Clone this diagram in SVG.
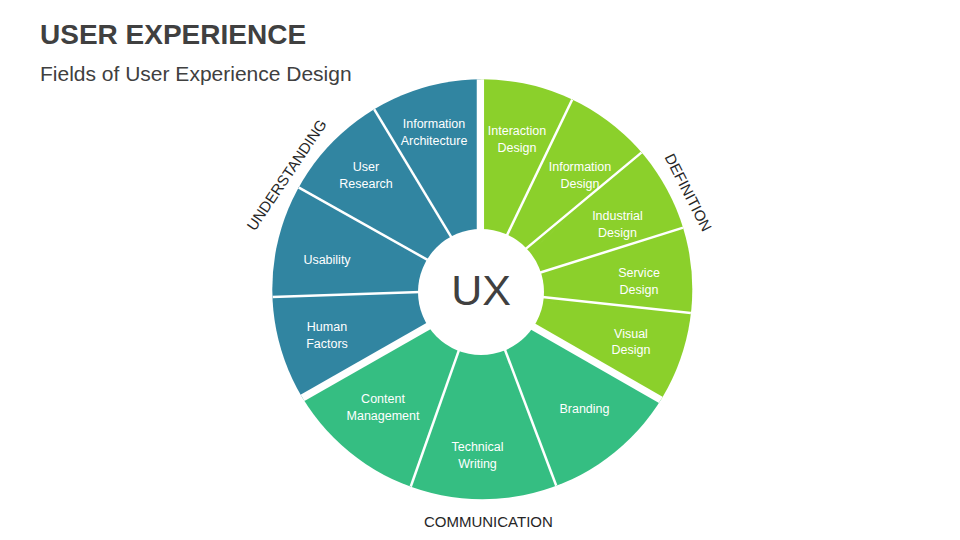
<svg xmlns="http://www.w3.org/2000/svg" width="960" height="540" viewBox="0 0 960 540">
<style>
.blue{fill:#3185A1;stroke:#3185A1;stroke-width:1}
.green{fill:#8BD02B;stroke:#8BD02B;stroke-width:1}
.teal{fill:#35BE82;stroke:#35BE82;stroke-width:1}
.lbl{font-family:"Liberation Sans",Arial,sans-serif;font-size:12.5px;fill:#FFFFFF;text-anchor:middle}
.cat{font-family:"Liberation Sans",Arial,sans-serif;font-size:15px;fill:#262626;text-anchor:middle}
.thin{stroke:#FFFFFF;stroke-width:2.5;fill:none}
.gap{stroke:#FFFFFF;stroke-width:7.3;fill:none}
</style>
<defs>
<clipPath id="disk"><circle cx="482.3" cy="289.3" r="210"/></clipPath>
</defs>
<rect width="960" height="540" fill="#FFFFFF"/>
<text x="40" y="44" font-family="'Liberation Sans',Arial,sans-serif" font-size="28" font-weight="bold" fill="#404040">USER EXPERIENCE</text>
<text x="40" y="81" font-family="'Liberation Sans',Arial,sans-serif" font-size="21" fill="#404040">Fields of User Experience Design</text>

<g id="seg-information-architecture">
<polygon class="blue" clip-path="url(#disk)" points="480.4,296.5 480.4,-3.5 332.3,35.6"/>
<text class="lbl" x="434" y="128">Information</text>
<text class="lbl" x="434" y="144.5">Architecture</text>
</g>
<g id="seg-user-research">
<polygon class="blue" clip-path="url(#disk)" points="480.4,296.5 332.3,35.6 223.1,142.1"/>
<text class="lbl" x="366" y="171">User</text>
<text class="lbl" x="366" y="187.5">Research</text>
</g>
<g id="seg-usability">
<polygon class="blue" clip-path="url(#disk)" points="480.4,296.5 223.1,142.1 180.4,297.2"/>
<text class="lbl" x="327" y="263.5">Usability</text>
</g>
<g id="seg-human-factors">
<polygon class="blue" clip-path="url(#disk)" points="480.4,296.5 180.4,297.2 219.7,445"/>
<text class="lbl" x="327" y="331">Human</text>
<text class="lbl" x="327" y="347.5">Factors</text>
</g>
<g id="seg-content-management">
<polygon class="teal" clip-path="url(#disk)" points="480.4,296.5 219.7,445 377.2,578.2"/>
<text class="lbl" x="383" y="403">Content</text>
<text class="lbl" x="383" y="419.5">Management</text>
</g>
<g id="seg-technical-writing">
<polygon class="teal" clip-path="url(#disk)" points="480.4,296.5 377.2,578.2 592.1,574.9"/>
<text class="lbl" x="477.5" y="451">Technical</text>
<text class="lbl" x="477.5" y="467.5">Writing</text>
</g>
<g id="seg-branding">
<polygon class="teal" clip-path="url(#disk)" points="480.4,296.5 592.1,574.9 740.7,445.7"/>
<text class="lbl" x="584.5" y="412.5">Branding</text>
</g>
<g id="seg-visual-design">
<polygon class="green" clip-path="url(#disk)" points="480.4,296.5 740.7,445.7 779.5,320.1"/>
<text class="lbl" x="631" y="337.5">Visual</text>
<text class="lbl" x="631" y="354">Design</text>
</g>
<g id="seg-service-design">
<polygon class="green" clip-path="url(#disk)" points="480.4,296.5 779.5,320.1 764.5,200"/>
<text class="lbl" x="639" y="277">Service</text>
<text class="lbl" x="639" y="293.5">Design</text>
</g>
<g id="seg-industrial-design">
<polygon class="green" clip-path="url(#disk)" points="480.4,296.5 764.5,200 704.1,96.6"/>
<text class="lbl" x="617.5" y="220">Industrial</text>
<text class="lbl" x="617.5" y="236.5">Design</text>
</g>
<g id="seg-information-design">
<polygon class="green" clip-path="url(#disk)" points="480.4,296.5 704.1,96.6 607.2,24.6"/>
<text class="lbl" x="580" y="171">Information</text>
<text class="lbl" x="580" y="187.5">Design</text>
</g>
<g id="seg-interaction-design">
<polygon class="green" clip-path="url(#disk)" points="480.4,296.5 607.2,24.6 480.4,-3.5"/>
<text class="lbl" x="517" y="135">Interaction</text>
<text class="lbl" x="517" y="151.5">Design</text>
</g>

<g id="connectors" clip-path="url(#disk)">
<line class="thin" x1="455.2" y1="243.6" x2="369.9" y2="102.1"/>
<line class="thin" x1="434.7" y1="263.9" x2="291.0" y2="183.1"/>
<line class="thin" x1="428" y1="291.7" x2="264.0" y2="297.3"/>
<line class="thin" x1="503.7" y1="242" x2="575.5" y2="92.8"/>
<line class="thin" x1="520.3" y1="253.4" x2="647.1" y2="147.9"/>
<line class="thin" x1="532.5" y1="275" x2="689.6" y2="225.6"/>
<line class="thin" x1="533.1" y1="295.9" x2="698" y2="313.9"/>
<line class="thin" x1="501.5" y1="340.6" x2="558.8" y2="492.5"/>
<line class="thin" x1="462.3" y1="340.6" x2="408.3" y2="493.5"/>
<line class="gap" x1="480.4" y1="296.5" x2="480.4" y2="70"/>
<line class="gap" x1="480.4" y1="296.5" x2="697.3" y2="420.8"/>
<line class="gap" x1="480.4" y1="296.5" x2="263.2" y2="420.3"/>
</g>

<g id="center-ux">
<circle cx="481" cy="292" r="63" fill="#FFFFFF"/>
<text x="481" y="305" font-family="'Liberation Sans',Arial,sans-serif" font-size="43" fill="#404040" text-anchor="middle">UX</text>
</g>

<g id="category-labels">
<text class="cat" transform="translate(291,177.9) rotate(-56)">UNDERSTANDING</text>
<text class="cat" transform="translate(683.6,194.9) rotate(62.9)">DEFINITION</text>
<text class="cat" x="488.4" y="527">COMMUNICATION</text>
</g>
</svg>
